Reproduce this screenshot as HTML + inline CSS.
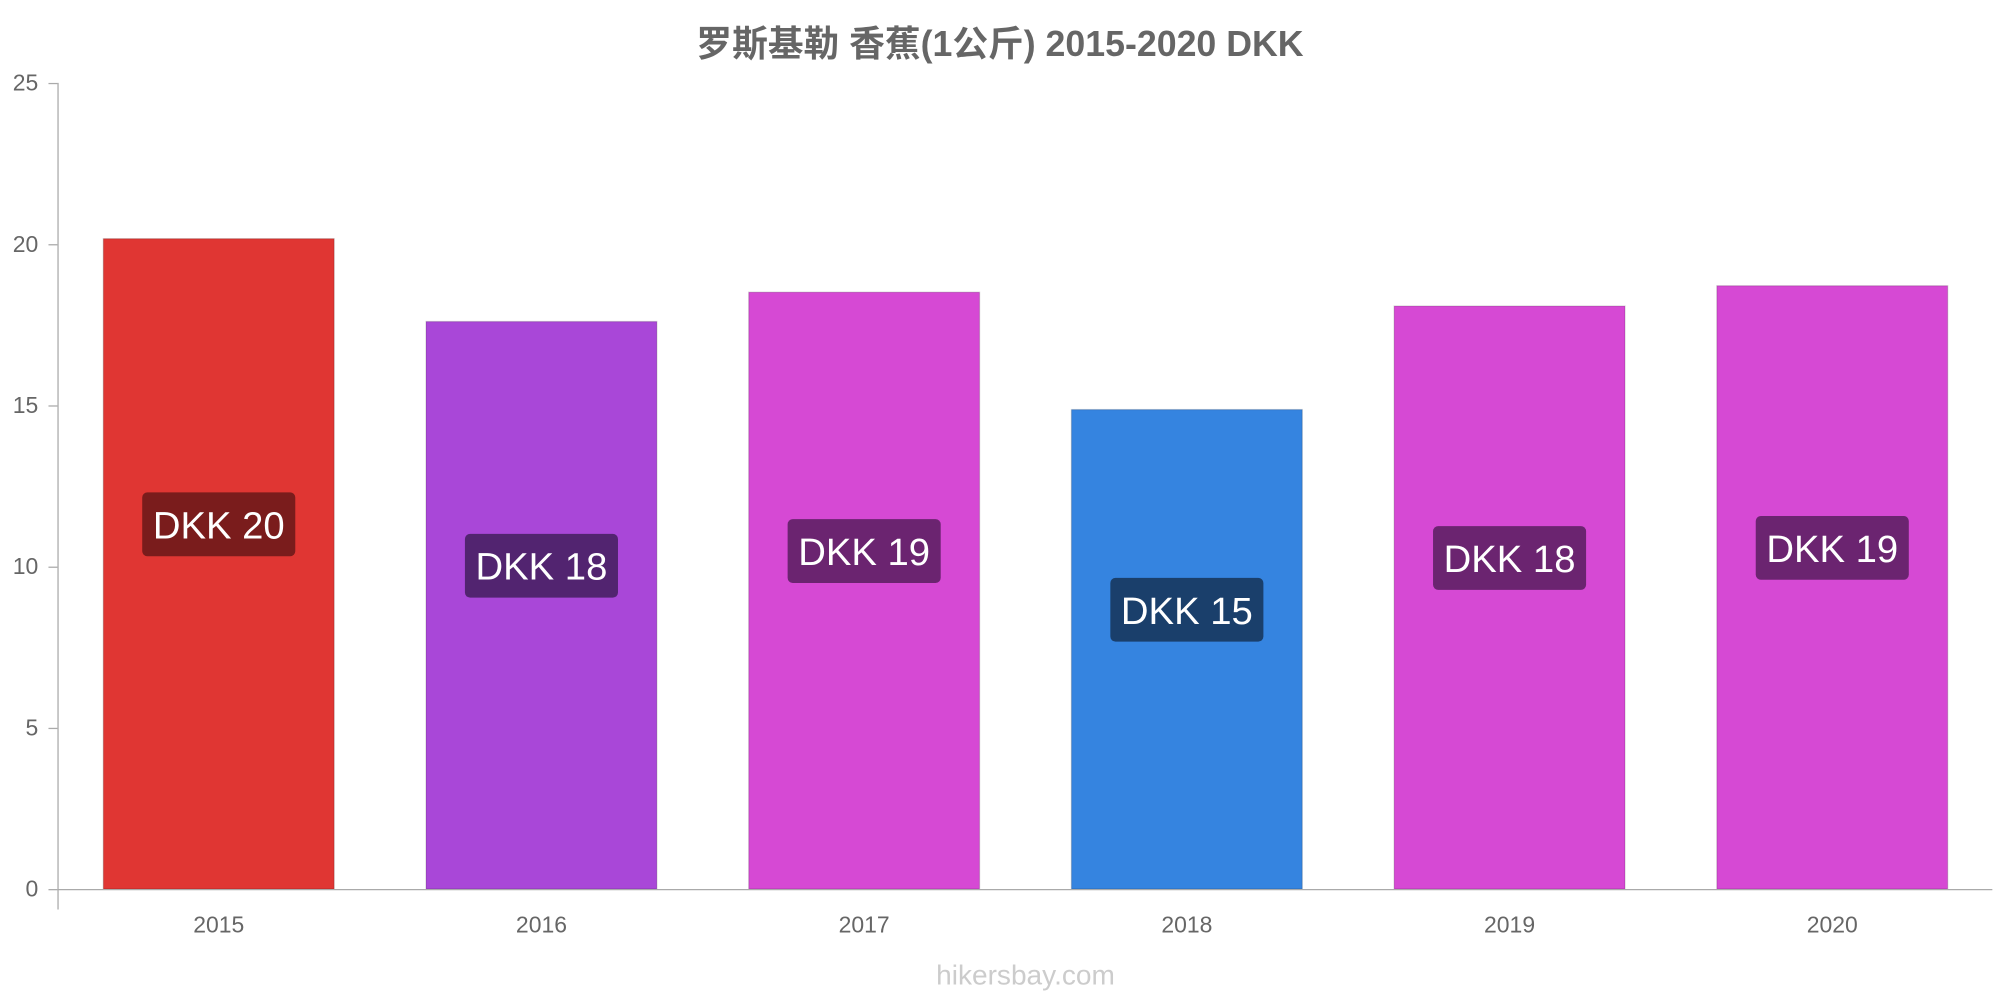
<!DOCTYPE html>
<html><head><meta charset="utf-8"><style>
html,body{margin:0;padding:0;background:#fff;}
svg{display:block;font-family:"Liberation Sans","Noto Sans CJK SC",sans-serif;}
</style></head><body>
<svg id="chart" width="2000" height="1000" viewBox="0 0 1568 784" xmlns="http://www.w3.org/2000/svg">
<text x="784" y="44" text-anchor="middle" font-size="28" font-weight="bold" fill="#666">罗斯基勒 香蕉(1公斤) 2015-2020 DKK</text>
<g id="yaxis"></g>
<g id="bars"></g>
<line x1="45.5" y1="65" x2="45.5" y2="713" stroke="#aaa" stroke-width="1"/>
<line x1="45" y1="697.5" x2="1562" y2="697.5" stroke="#aaa" stroke-width="1"/>
<text x="804" y="772" text-anchor="middle" font-size="22" fill="#ccc">hikersbay.com</text>
</svg>
<script>
const categories = ["2015","2016","2017","2018","2019","2020"];
const values = [20.17, 17.6, 18.51, 14.87, 18.08, 18.71];
const valueLabels = ["DKK 20","DKK 18","DKK 19","DKK 15","DKK 18","DKK 19"];
const yTicks = [0,5,10,15,20,25];
const barColors = ["#e03633","#a947d8","#d649d4","#3584e0","#d649d4","#d649d4"];
const labelColors = ["#7a1c1c","#522470","#6b2470","#1a3f6b","#6b2470","#6b2470"];
const NS="http://www.w3.org/2000/svg";
const y0=697, yTop=65, yMax=25;
function y(v){return y0-(v/yMax)*(y0-yTop);}
const slot=253, x0=45, bw=181;
function xc(i){return x0+slot*i+slot/2;}
const ya=document.getElementById('yaxis');
yTicks.forEach(t=>{
  const tx=document.createElementNS(NS,'text');
  
  
  tx.setAttribute('x',30);tx.setAttribute('y',y(t)+6);
  tx.setAttribute('text-anchor','end');tx.setAttribute('font-size','18');tx.setAttribute('fill','#666');
  tx.textContent=t;ya.appendChild(tx);
  const tk=document.createElementNS(NS,'line');
  
  
  tk.setAttribute('x1',38);tk.setAttribute('x2',45);tk.setAttribute('y1',y(t)+.5);tk.setAttribute('y2',y(t)+.5);
  tk.setAttribute('stroke','#aaa');ya.appendChild(tk);
});
const bg=document.getElementById('bars');
categories.forEach((c,i)=>{
  const cx=xc(i), top=y(values[i]);
  const r=document.createElementNS(NS,'rect');
  
  
  r.setAttribute('x',cx-bw/2);r.setAttribute('y',top);r.setAttribute('width',bw);r.setAttribute('height',y0-top);
  r.setAttribute('fill',barColors[i]);r.setAttribute('stroke','rgba(0,0,0,0.15)');
  bg.appendChild(r);
  const ly=(top+y0)/2-31;
  const b=document.createElementNS(NS,'rect');
  
  
  b.setAttribute('x',cx-60);b.setAttribute('y',ly-25);b.setAttribute('width',120);b.setAttribute('height',50);
  b.setAttribute('rx',4);b.setAttribute('fill',labelColors[i]);
  bg.appendChild(b);
  const t=document.createElementNS(NS,'text');
  
  
  t.setAttribute('x',cx);t.setAttribute('y',ly+11);t.setAttribute('text-anchor','middle');
  t.setAttribute('font-size','30');t.setAttribute('fill','#fff');
  t.textContent=valueLabels[i];bg.appendChild(t);
  const xl=document.createElementNS(NS,'text');
  
  
  xl.setAttribute('x',cx);xl.setAttribute('y',731);xl.setAttribute('text-anchor','middle');
  xl.setAttribute('font-size','18');xl.setAttribute('fill','#666');
  xl.textContent=c;bg.appendChild(xl);
});
</script>
</body></html>
